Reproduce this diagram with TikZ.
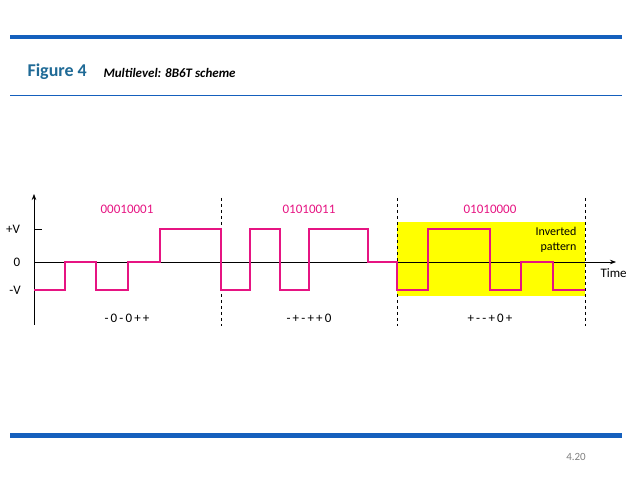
\documentclass[tikz,border=0pt]{standalone}
\usepackage{fontspec}
\setmainfont{Carlito}
\usetikzlibrary{arrows.meta}
\definecolor{barblue}{RGB}{21,96,189}
\definecolor{titleblue}{RGB}{31,106,150}
\definecolor{sig}{RGB}{230,20,130}
\definecolor{yel}{RGB}{255,255,0}
\begin{document}
\begin{tikzpicture}[x=1pt,y=-1pt,
  sigline/.style={sig,line width=1.8pt,line join=miter},
  divider/.style={dashed,line width=0.6pt},
  lbl/.style={font=\fontsize{13}{14}\selectfont},
  bits/.style={font=\fontsize{13}{14}\selectfont,text=sig}]
\useasboundingbox (0,0) rectangle (638,478);
\fill[barblue] (10,35) rectangle (622,39);
\draw[barblue,line width=0.8pt] (10,95) -- (622,95);
\fill[barblue] (10,433) rectangle (622,438);
\node[anchor=west,text=titleblue,font=\bfseries\fontsize{18}{20}\selectfont] (fig) at (24,72) {Figure 4};
\node[anchor=west,font=\bfseries\itshape\fontsize{13}{15}\selectfont] (cap) at (100,73) {Multilevel: 8B6T scheme};
\node[font=\fontsize{11}{12}\selectfont,text=gray] (pg) at (576,457) {4.20};
\fill[yel] (397,222) rectangle (585,296);
\coordinate (yb) at (34,325); \coordinate (yt) at (34,194);
\coordinate (xl) at (34,262); \coordinate (xr) at (616,262);
\draw[-{Stealth[length=6pt]},line width=0.7pt] (yb) -- (yt);
\draw[-{Stealth[length=6pt]},line width=0.7pt] (xl) -- (xr);
\draw[line width=0.6pt] (34,229) -- (42,229) (34,290) -- (42,290);
\node[lbl] (pv) at (13,229) {+V};
\node[lbl] (zv) at (17,262) {0};
\node[lbl] (mv) at (15,290) {-V};
\node[lbl,anchor=west] (tm) at (597,273) {Time};
\foreach \x/\n in {221/d1,397/d2,585/d3}{
  \coordinate (\n t) at (\x,198); \coordinate (\n b) at (\x,326);
  \draw[divider] (\n t) -- (\n b);}
\draw[sigline] (34,290) -- (65,290) -- (65,262) -- (96,262) -- (96,290) -- (128,290) -- (128,262) -- (160,262) -- (160,229) -- (221,229)
 -- (221,290) -- (250,290) -- (250,229) -- (280,229) -- (280,290) -- (309,290) -- (309,229) -- (368,229) -- (368,262) -- (397,262)
 -- (397,290) -- (428,290) -- (428,229) -- (490,229) -- (490,290) -- (521,290) -- (521,262) -- (553,262) -- (553,290) -- (585,290);
\node[bits] (b1) at (127,209) {00010001};
\node[bits] (b2) at (309,209) {01010011};
\node[bits] (b3) at (490,209) {01010000};
\node[lbl] (s1) at (127,318) {-\,0\,-\,0\,+\,+};
\node[lbl] (s2) at (309,318) {-\,+\,-\,+\,+\,0};
\node[lbl] (s3) at (490,318) {+\,-\,-\,+\,0\,+};
\node[align=right,anchor=east,font=\fontsize{12}{15}\selectfont] (inv) at (580,240) {Inverted\\pattern};
\end{tikzpicture}
\end{document}
